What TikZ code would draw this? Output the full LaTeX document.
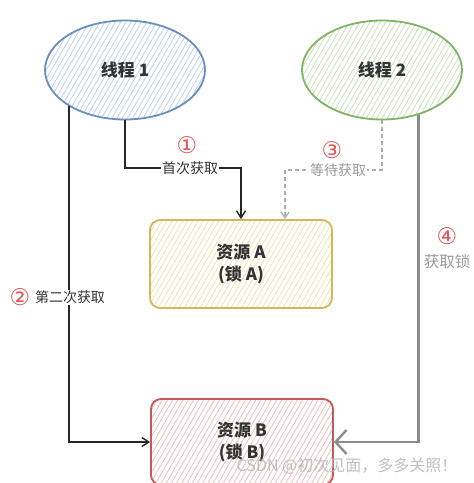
\documentclass[tikz,border=0pt]{standalone}
\usepackage{fontspec}
\setmainfont{Noto Sans CJK SC}
\newfontfamily\dejavu{DejaVu Sans}
\usetikzlibrary{shapes.geometric,arrows.meta,patterns.meta,calc}
\definecolor{bluestroke}{HTML}{6C8EBF}
\definecolor{bluehatch}{HTML}{BCD1EF}
\definecolor{greenstroke}{HTML}{82B366}
\definecolor{greenhatch}{HTML}{C9E2BA}
\definecolor{yellowstroke}{HTML}{D6B656}
\definecolor{yellowhatch}{HTML}{F3E3AE}
\definecolor{redstroke}{HTML}{C25B57}
\definecolor{redhatch}{HTML}{F0BDBB}
\definecolor{txt}{HTML}{333333}
\definecolor{graytxt}{HTML}{999999}
\definecolor{grayline}{HTML}{8C8C8C}
\definecolor{numred}{HTML}{E05555}
\tikzset{
  hatch/.style={pattern={Lines[angle=60,distance=4.5pt,line width=0.8pt]},pattern color=#1},
  thread/.style={ellipse,minimum width=160pt,minimum height=99pt,line width=1.8pt,
    font=\fontsize{17}{22}\selectfont\bfseries,text=txt},
  resbox/.style={rectangle,rounded corners=10pt,minimum width=182pt,line width=1.8pt,
    align=center,font=\fontsize{17}{22}\selectfont\bfseries,text=txt},
  lbl/.style={fill=white,inner sep=1pt,font=\fontsize{14}{16}\selectfont,text=txt},
  graylbl/.style={fill=white,inner sep=1pt,font=\fontsize{14}{16}\selectfont,text=graytxt},
  num/.style={inner sep=0pt,font=\dejavu\fontsize{23}{24}\selectfont,text=numred},
  blackline/.style={line width=2pt,draw=black!85,-{Straight Barb[length=7pt,width=9pt,line width=1.4pt]}},
}
\begin{document}
\begin{tikzpicture}[x=1pt,y=-1pt]
\useasboundingbox (0,0) rectangle (474,483);
\clip (0,0) rectangle (474,483);
\fill[white] (0,0) rectangle (474,483);

% threads
\node[thread,draw=bluestroke,hatch=bluehatch] (t1) at (125,70) {线程 1};
\node[thread,draw=greenstroke,hatch=greenhatch] (t2) at (382,70) {线程 2};

% resources
\node[resbox,minimum height=88pt,draw=yellowstroke,hatch=yellowhatch] (ra) at (241,264) {资源 A\\(锁 A)};
\node[resbox,minimum height=86pt,draw=redstroke,hatch=redhatch] (rb) at (242,442) {资源 B\\(锁 B)};

% helper coordinates
\coordinate (a3) at ($(ra.north)+(44,0)$);

% 1: thread 1 -> A
\draw[blackline] (t1.south) -- (t1.south |- 0,168) -| (ra.north);
\node[lbl] (l1) at (190,168) {首次获取};
\node[num] (n1) at (187,145) {①};

% 2: thread 1 -> B
\draw[blackline] (t1.213) |- (rb.west);
\node[lbl] (l2) at (70,297) {第二次获取};
\node[num] (n2) at (20,297) {②};

% 3: thread 2 -> A (waiting)
\draw[line width=1.3pt,draw=graytxt!80,dashed,dash pattern=on 4pt off 3pt,
  -{Straight Barb[length=6pt,width=8pt,line width=1.2pt]}]
  (t2.south) -- (t2.south |- 0,170) -| (a3);
\node[graylbl] (l3) at (338,170) {等待获取};
\node[num] (n3) at (332,150) {③};

% 4: thread 2 -> B
\draw[line width=2.6pt,draw=grayline,
  -{Straight Barb[length=11pt,width=24pt,line width=2.4pt]}]
  (t2.309) |- (rb.east);
\node[num] (n4) at (447,236) {④};
\node[inner sep=0pt,font=\fontsize{15.5}{16}\selectfont,text=graytxt] (l4) at (447,262) {获取锁};

% watermark
\node[inner sep=0pt,font=\fontsize{16}{18}\selectfont,text=gray!55,opacity=0.9] (wm) at (347,466) {CSDN @初次见面，多多关照！};
\end{tikzpicture}
\end{document}
